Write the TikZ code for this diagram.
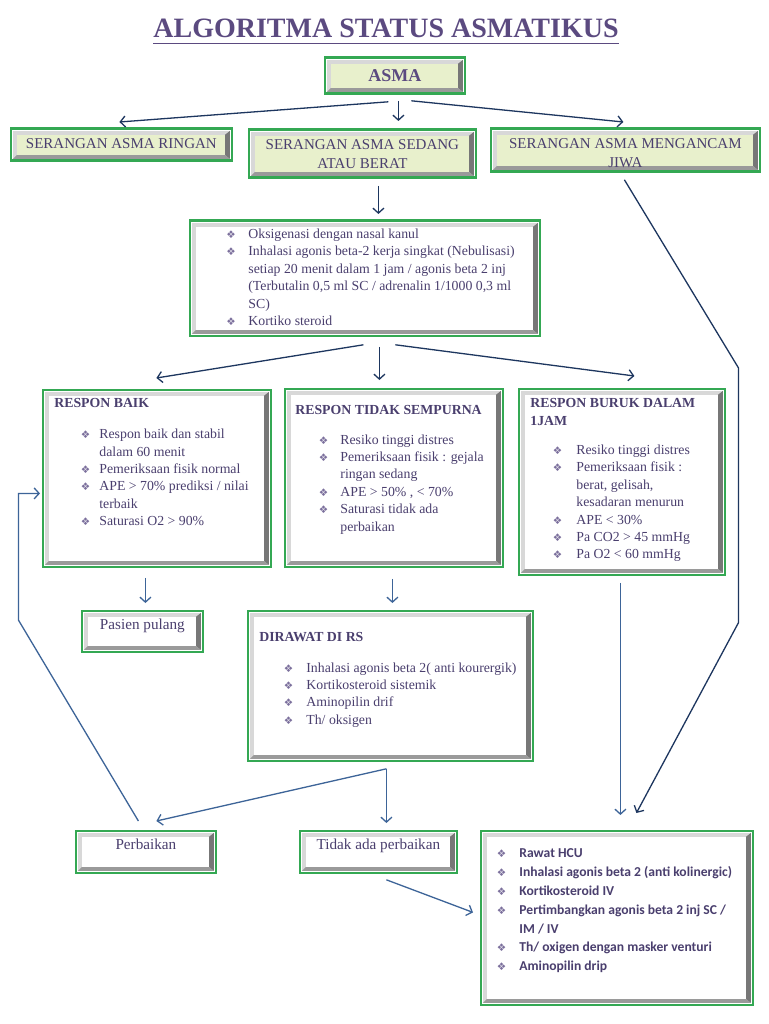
\documentclass[tikz,border=0pt]{standalone}
\usepackage{fontspec}
\setmainfont{Liberation Serif}
\newfontfamily\bulfont{DejaVu Sans}
\newfontfamily\calfont{Carlito}
\usetikzlibrary{arrows.meta,calc}
\definecolor{bgreen}{HTML}{34A853}
\definecolor{txt}{HTML}{4A3F6E}
\definecolor{ttlc}{HTML}{5B4A80}
\definecolor{lgreen}{HTML}{E8F0CC}
\definecolor{bevL}{HTML}{D8D8D8}
\definecolor{bevD}{HTML}{777777}
\definecolor{bevM}{HTML}{9A9A9A}
\definecolor{navy}{HTML}{1D365F}
\definecolor{mblue}{HTML}{3D6498}
\definecolor{bulc}{HTML}{7B6F9C}
\newcommand\bul{{\bulfont\fontsize{10.5}{10.5}\selectfont\color{bulc}❖}}
\newcommand\li[3]{\par\leftskip=#1pt\relax\hangindent=\dimexpr#2pt-#1pt\relax\hangafter=1\noindent\makebox[\dimexpr#2pt-#1pt\relax][l]{\bul}#3\par}
\newcommand\ttlline[2]{\par\leftskip=#1pt\relax\noindent\textbf{#2}\par}
\newcommand\bx[8]{\node[bx=#6] (#1) at (#2,#3) {\parbox[t][#5pt][t]{#4pt}{\raggedright\vspace*{#7pt}#8}};}
\tikzset{
 bx/.style={draw=bgreen, line width=2.8pt, inner sep=0pt, anchor=north west, text=txt,
   font=\fontsize{13.8}{17.4}\selectfont,
   path picture={
     \fill[white] (path picture bounding box.south west) rectangle (path picture bounding box.north east);
     \fill[bevL] ([shift={(2pt,2pt)}]path picture bounding box.south west) rectangle ([shift={(-2pt,-2pt)}]path picture bounding box.north east);
     \fill[bevD] ([shift={(-2pt,-2pt)}]path picture bounding box.north east) -- ([shift={(-2pt,2pt)}]path picture bounding box.south east) -- ([shift={(-7pt,6pt)}]path picture bounding box.south east) -- ([shift={(-7pt,-6pt)}]path picture bounding box.north east) -- cycle;
     \fill[bevM] ([shift={(2pt,2pt)}]path picture bounding box.south west) -- ([shift={(-2pt,2pt)}]path picture bounding box.south east) -- ([shift={(-7pt,6pt)}]path picture bounding box.south east) -- ([shift={(6pt,6pt)}]path picture bounding box.south west) -- cycle;
     \fill[#1] ([shift={(6pt,6pt)}]path picture bounding box.south west) rectangle ([shift={(-7pt,-6pt)}]path picture bounding box.north east);
   }},
 arrD/.style={draw=navy, line width=1.3pt, -{Straight Barb[length=5pt,width=11pt]}},
 arrB/.style={draw=mblue, line width=1.3pt, -{Straight Barb[length=5pt,width=11pt]}},
}
\begin{document}
\begin{tikzpicture}[x=1pt,y=-1pt]
\useasboundingbox[fill=white] (0,0) rectangle (768,1024);
% title
\node[anchor=base, inner sep=0pt, text=ttlc, font=\fontsize{28}{30}\selectfont\bfseries] (title) at (386,38) {ALGORITMA STATUS ASMATIKUS};
\draw[ttlc, line width=1.8pt] ([yshift=-5.5pt]title.base west) -- ([yshift=-5.5pt]title.base east);
% boxes
\bx{asma}{323.5}{56.5}{140}{36}{lgreen}{12}{\centering\fontsize{18}{20}\selectfont\bfseries\color{ttlc}ASMA}
\bx{ringan}{9.5}{127.5}{221}{32}{lgreen}{9.5}{\centering\fontsize{15}{19}\selectfont SERANGAN ASMA RINGAN}
\bx{sedang}{247.5}{128.5}{227}{48}{lgreen}{9.5}{\centering\fontsize{15}{19}\selectfont SERANGAN ASMA SEDANG\\ATAU BERAT}
\bx{mengancam}{489.5}{127.5}{269}{43}{lgreen}{9.5}{\centering\fontsize{15}{19}\selectfont SERANGAN ASMA MENGANCAM\\JIWA}
\bx{mid}{188.5}{219.5}{350}{115}{white}{8}{%
 \li{36.5}{58.5}{Oksigenasi dengan nasal kanul}%
 \li{36.5}{58.5}{Inhalasi agonis beta-2 kerja singkat (Nebulisasi)\newline setiap 20 menit dalam 1 jam / agonis beta 2 inj\newline (Terbutalin 0,5 ml SC / adrenalin 1/1000 0,3 ml\newline SC)}%
 \li{36.5}{58.5}{Kortiko steroid}}
\bx{baik}{41.5}{388.5}{228}{177}{white}{8.6}{%
 \ttlline{11.5}{RESPON BAIK}\vspace{13.6pt}%
 \li{38}{56.5}{Respon baik dan stabil\newline dalam 60 menit}%
 \li{38}{56.5}{Pemeriksaan fisik normal}%
 \li{38}{56.5}{APE > 70\% prediksi / nilai\newline terbaik}%
 \li{38}{56.5}{Saturasi O2 > 90\%}}
\bx{tidak}{283.5}{387.5}{218}{178}{white}{16.6}{%
 \ttlline{10.5}{RESPON TIDAK SEMPURNA}\vspace{12pt}%
 \li{34}{55.5}{Resiko tinggi distres}%
 \li{34}{55.5}{Pemeriksaan fisik : gejala\newline ringan sedang}%
 \li{34}{55.5}{APE > 50\% , < 70\%}%
 \li{34}{55.5}{Saturasi tidak ada\newline perbaikan}}
\bx{buruk}{517.5}{387.5}{206}{186}{white}{9.6}{%
 \ttlline{11.5}{RESPON BURUK DALAM\newline 1JAM}\vspace{12pt}%
 \li{34}{57.5}{Resiko tinggi distres}%
 \li{34}{57.5}{Pemeriksaan fisik :\newline berat, gelisah,\newline kesadaran menurun}%
 \li{34}{57.5}{APE < 30\%}%
 \li{34}{57.5}{Pa CO2 > 45 mmHg}%
 \li{34}{57.5}{Pa O2 < 60 mmHg}}
\bx{pulang}{80.5}{609.5}{121}{41}{white}{8.2}{\centering\fontsize{15.2}{18}\selectfont Pasien pulang}
\bx{dirawat}{246.5}{609.5}{285}{150}{white}{21.6}{%
 \ttlline{11.5}{DIRAWAT DI RS}\vspace{13pt}%
 \li{36}{58.5}{Inhalasi agonis beta 2( anti kourergik)}%
 \li{36}{58.5}{Kortikosteroid sistemik}%
 \li{36}{58.5}{Aminopilin drif}%
 \li{36}{58.5}{Th/ oksigen}}
\bx{perbaikan}{74.5}{829.5}{140}{42}{white}{7.7}{\centering\fontsize{15.2}{18}\selectfont Perbaikan}
\bx{tidakada}{298.5}{829.5}{157}{42}{white}{7.7}{\centering\fontsize{15.2}{18}\selectfont Tidak ada perbaikan}
\bx{hcu}{479.5}{829.5}{272}{174}{white}{18}{\calfont\bfseries\fontsize{13.6}{18.8}\selectfont
 \li{16}{38.5}{Rawat HCU}%
 \li{16}{38.5}{Inhalasi agonis beta 2 (anti kolinergic)}%
 \li{16}{38.5}{Kortikosteroid IV}%
 \li{16}{38.5}{Pertimbangkan agonis beta 2 inj SC /\newline IM / IV}%
 \li{16}{38.5}{Th/ oxigen dengan masker venturi}%
 \li{16}{38.5}{Aminopilin drip}}
% connectors
\draw[arrD] ([xshift=-6.5pt,yshift=-6.5pt]asma.south) -- ([xshift=-2pt,yshift=5.5pt]ringan.north);
\draw[arrD] ([xshift=3.5pt,yshift=-5.5pt]asma.south) -- ([xshift=36pt,yshift=7.5pt]sedang.north);
\draw[arrD] ([xshift=16.5pt,yshift=-5.5pt]asma.south) -- ([xshift=-2pt,yshift=5.5pt]mengancam.north);
\draw[arrD] ([xshift=16pt,yshift=-6.5pt]sedang.south) -- ([xshift=13.5pt,yshift=5.5pt]mid.north);
\draw[arrD] ([xshift=-1.5pt,yshift=-7.5pt]mid.south) -- ([xshift=-0.5pt,yshift=10.5pt]baik.north);
\draw[arrD] ([xshift=14.5pt,yshift=-9.5pt]mid.south) -- ([xshift=-14.5pt,yshift=7.5pt]tidak.north);
\draw[arrD] ([xshift=30.5pt,yshift=-7.5pt]mid.south) -- ([xshift=12.5pt,yshift=11.5pt]buruk.north);
\draw[arrB] ([xshift=-11.5pt,yshift=-9.5pt]baik.south) -- ([xshift=3pt,yshift=6.5pt]pulang.north);
\draw[arrB] ([xshift=-1.5pt,yshift=-10.5pt]tidak.south) -- ([xshift=2pt,yshift=6.5pt]dirawat.north);
\draw[arrB] ([xshift=-4pt,yshift=-6.5pt]dirawat.south) -- ([xshift=10.5pt,yshift=8.5pt]perbaikan.north);
\draw[arrB] ([xshift=-4pt,yshift=-6.5pt]dirawat.south) -- ([xshift=8pt,yshift=6.5pt]tidakada.north);
\draw[arrB] ([xshift=-7.5pt,yshift=8.5pt]perbaikan.north) -- ++(-120,-201) |- ([xshift=-1.5pt,yshift=-15pt]baik.west);
\draw[arrB] ([xshift=8pt,yshift=-5.5pt]tidakada.south) -- ([xshift=-6.5pt,yshift=5.5pt]hcu.west);
\draw[arrD] ([xshift=-1pt,yshift=-6.5pt]mengancam.south) -- ++(114,188) -- ++(0,255) -- ([xshift=19.5pt,yshift=16.5pt]hcu.north);
\draw[arrB] ([xshift=-1.5pt,yshift=-6.5pt]buruk.south) -- ([xshift=3.5pt,yshift=14.5pt]hcu.north);
\end{tikzpicture}
\end{document}
